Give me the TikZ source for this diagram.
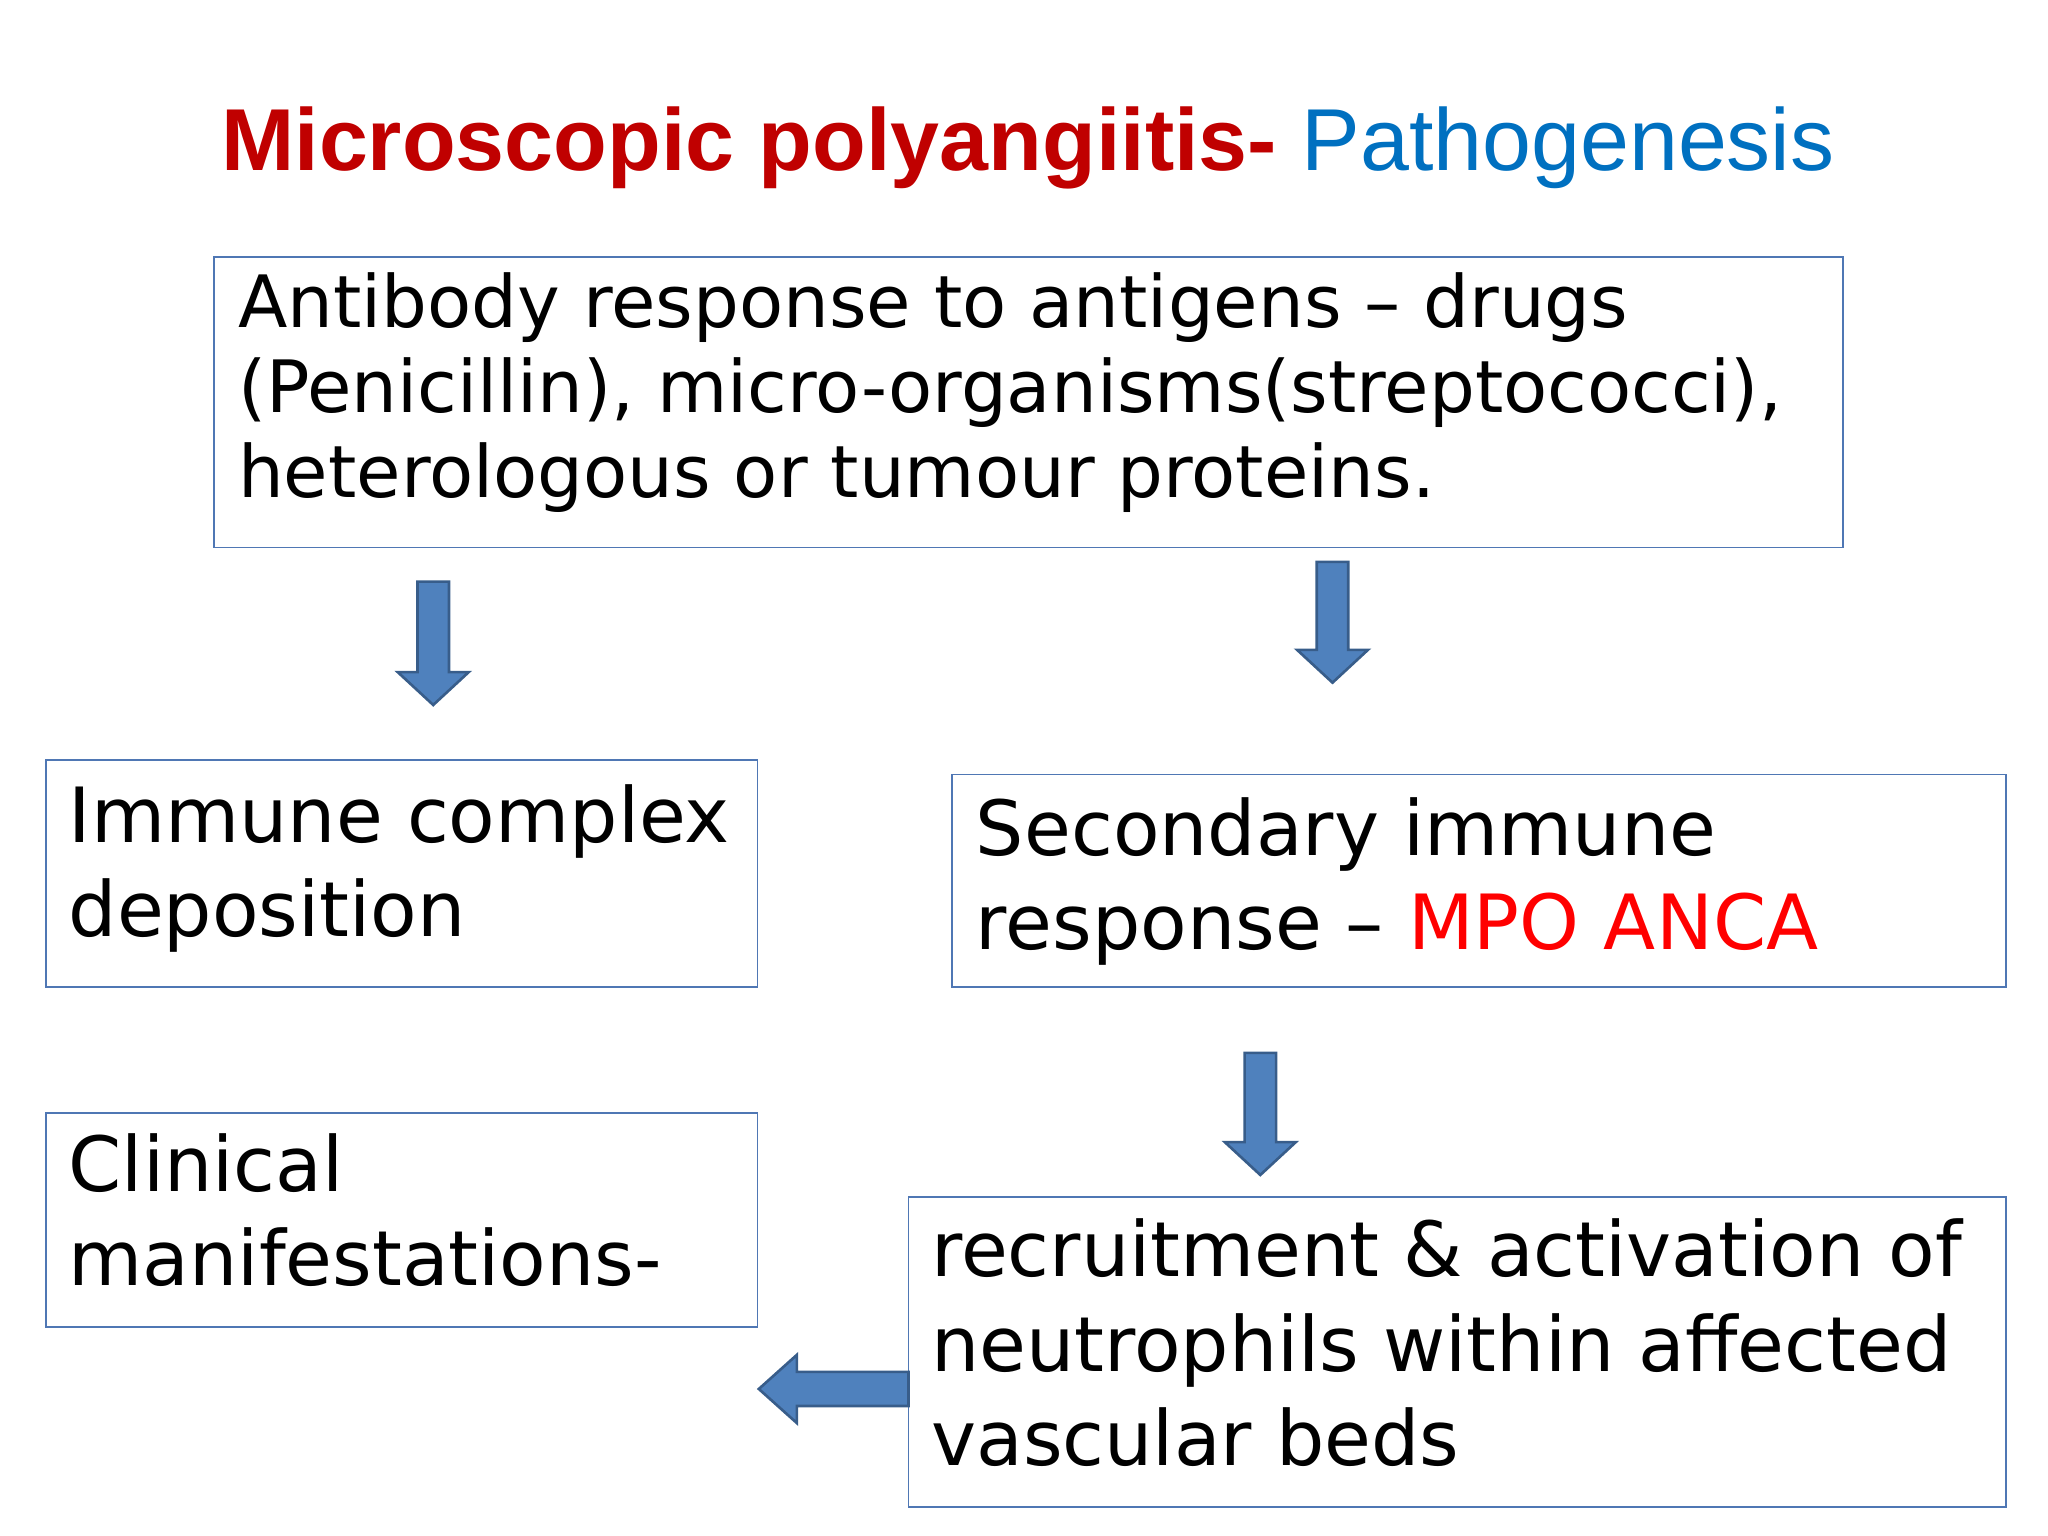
\documentclass[tikz,border=0pt]{standalone}
\usepackage{fontspec}
\setmainfont{DejaVu Sans}
\newfontfamily\titlefont{Liberation Sans}
\definecolor{tred}{RGB}{192,0,0}
\definecolor{tblue}{RGB}{0,112,192}
\definecolor{ared}{RGB}{255,0,0}
\definecolor{afill}{RGB}{79,129,189}
\definecolor{aline}{RGB}{56,93,138}
\definecolor{bline}{RGB}{79,119,180}
\tikzset{
  boxx/.style={draw=bline,line width=0.7pt},
  txt/.style={anchor=north west,align=left,inner sep=0pt,font=\fontsize{27.5}{32.5}\selectfont},
  txtb/.style={anchor=north west,align=left,inner sep=0pt,font=\fontsize{29}{36}\selectfont},
  barrow/.style={fill=afill,draw=aline,line width=1pt}
}
\begin{document}
\begin{tikzpicture}[x=0.5pt,y=-0.5pt]
\useasboundingbox (0,0) rectangle (1560,1170);
\node[anchor=base,inner sep=0pt,font=\titlefont\fontsize{33.5}{38}\bfseries\selectfont] (title) at (783,130)
  {\textcolor{tred}{Microscopic polyangiitis-} \textcolor{tblue}{\mdseries Pathogenesis}};
\draw[boxx] (163,196) rectangle (1404,417);
\node[txt] (t1) at (181,207) {Antibody response to antigens – drugs\\(Penicillin), micro-organisms(streptococci),\\heterologous or tumour proteins.};
\draw[boxx] (35,579) rectangle (577,752);
\node[txtb] (t2) at (52,597) {Immune complex\\deposition};
\draw[boxx] (725,590) rectangle (1528,752);
\node[txtb] (t3) at (743,607) {Secondary immune\\response – \textcolor{ared}{MPO ANCA}};
\draw[boxx] (35,848) rectangle (577,1011);
\node[txtb] (t4) at (52,863) {Clinical\\manifestations-};
\draw[boxx] (692,912) rectangle (1528,1148);
\node[txtb] (t5) at (709,928) {recruitment \& activation of\\neutrophils within affected\\vascular beds};
% down arrows
\foreach \cx/\ty/\by in {330/443/537, 1015/428/520, 960/802/895}{
  \draw[barrow] (\cx-12,\ty) -- (\cx+12,\ty) -- (\cx+12,\by-25) -- (\cx+27,\by-25) -- (\cx,\by) -- (\cx-27,\by-25) -- (\cx-12,\by-25) -- cycle;
}
% left arrow
\draw[barrow] (692,1045) -- (607,1045) -- (607,1032) -- (578,1058) -- (607,1084) -- (607,1071) -- (692,1071) -- cycle;
\end{tikzpicture}
\end{document}
